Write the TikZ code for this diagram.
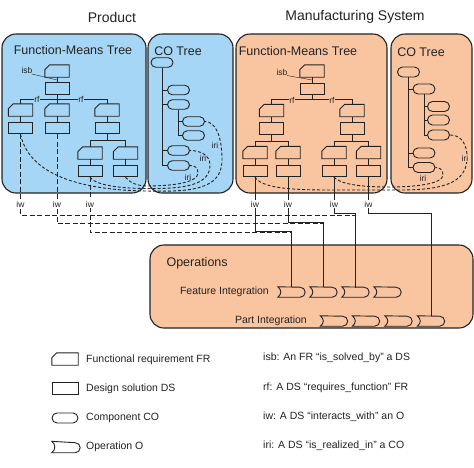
\documentclass[tikz,border=0pt]{standalone}
\usepackage{fontspec}
\setmainfont{Liberation Sans}
\usetikzlibrary{shapes.misc,calc}
\definecolor{bluefill}{RGB}{166,214,245}
\definecolor{orangefill}{RGB}{249,197,161}
\definecolor{ink}{RGB}{35,35,35}
\begin{document}
\begin{tikzpicture}[x=1pt,y=-1pt,
  panelb/.style={draw=ink, line width=1.1pt, fill=bluefill, rounded corners=14pt},
  panelo/.style={draw=ink, line width=1.1pt, fill=orangefill, rounded corners=14pt},
  frbox/.style={rectangle, minimum width=24pt, minimum height=12pt, inner sep=0pt},
  dsbox/.style={rectangle, draw=ink, line width=0.9pt, minimum width=24pt, minimum height=11.5pt, inner sep=0pt},
  cobox/.style={rounded rectangle, draw=ink, line width=0.9pt, minimum width=22pt, minimum height=9.5pt, inner sep=0pt},
  opbox/.style={rectangle, minimum width=27pt, minimum height=10pt, inner sep=0pt},
  tline/.style={draw=ink, line width=0.9pt},
  iwd/.style={draw=ink, line width=0.9pt, dash pattern=on 5pt off 2.5pt},
  iws/.style={draw=ink, line width=0.9pt},
  irid/.style={draw=ink, line width=0.9pt, dash pattern=on 3pt off 2pt},
  lbl/.style={font=\fontsize{8.5}{9}\selectfont, inner sep=0.8pt, text=ink},
  ttl/.style={font=\fontsize{12.5}{14}\selectfont, text=ink},
  bigttl/.style={font=\fontsize{14}{16}\selectfont, text=ink},
  legtxt/.style={font=\fontsize{10.5}{12}\selectfont, anchor=west, inner sep=0pt, text=ink}
]
\useasboundingbox (0,0) rectangle (474,467);
\fill[white] (0,0) rectangle (474,467);

% headings
\node[bigttl] (hprod) at (112,17) {Product};
\node[bigttl] (hman) at (355,17) {Manufacturing System};

% panels
\draw[panelb] (2,34) rectangle (146,193);
\draw[panelb] (148,34) rectangle (233,193);
\draw[panelo] (236,34) rectangle (387,193);
\draw[panelo] (391,34) rectangle (472,193);
\draw[panelo] (150,245) rectangle (473,328);

\node[ttl] (t1) at (73,50) {Function-Means Tree};
\node[ttl] (t2) at (178,51) {CO Tree};
\node[ttl] (t3) at (298,51) {Function-Means Tree};
\node[ttl] (t4) at (421,52) {CO Tree};
\node[ttl, anchor=west] (t5) at (163,263) {Operations};

% ---------- left FM tree
\node[frbox] (lfr1) at (57,71) {};
\node[dsbox] (lds1) at (57,88.5) {};
\node[frbox] (lfr2a) at (20.5,110) {};
\node[dsbox] (lds2a) at (20.5,128) {};
\node[frbox] (lfr2b) at (57,110) {};
\node[dsbox] (lds2b) at (57,128) {};
\node[frbox] (lfr2c) at (107,110) {};
\node[dsbox] (lds2c) at (107,128) {};
\node[frbox] (lfr3a) at (90,153) {};
\node[dsbox] (lds3a) at (90,171) {};
\node[frbox] (lfr3b) at (125.5,153) {};
\node[dsbox] (lds3b) at (125.5,171) {};
\draw[tline] (lfr1) -- (lds1);
\draw[tline] (lds1) -- (lfr2b);
\draw[tline] (lfr2a.north) -- ++(0,-4.5) -| (lfr2c.north);
\draw[tline] (lfr2a) -- (lds2a);
\draw[tline] (lfr2b) -- (lds2b);
\draw[tline] (lfr2c) -- (lds2c);
\draw[tline] (lds2c.south) -- ++(0,7.25);
\draw[tline] (lfr3a.north) -- ++(0,-6) -| (lfr3b.north);
\draw[tline] (lfr3a) -- (lds3a);
\draw[tline] (lfr3b) -- (lds3b);
\node[lbl, fill=bluefill] (lrf1) at (37,99.5) {rf};
\node[lbl, fill=bluefill] (lrf2) at (81,99.5) {rf};
\node[lbl] (lisb) at (27,70) {isb};
\coordinate (lisbpt) at (57,80);
\draw[draw=ink, line width=0.4pt] (32,74) -- (lisbpt);

% ---------- left CO tree
\node[cobox] (lco1) at (162,62.5) {};
\node[cobox] (lco2) at (178.5,90) {};
\node[cobox] (lco3) at (178.5,104.5) {};
\node[cobox] (lco4) at (193.5,121.5) {};
\node[cobox] (lco5) at (193.5,135.5) {};
\node[cobox] (lco6) at (178.5,150.5) {};
\node[cobox] (lco7) at (178.5,165.5) {};
\draw[tline] (lco1.south) |- (lco7.west);
\foreach \c in {lco2,lco3,lco6} \draw[tline] (lco1.south |- \c.west) -- (\c.west);
\draw[tline] (lco3.south) |- (lco5.west);
\draw[tline] (lco3.south |- lco4.west) -- (lco4.west);

% ---------- right FM tree
\node[frbox] (rfr1) at (312,71) {};
\node[dsbox] (rds1) at (312,89) {};
\node[frbox] (rfr2a) at (271.5,110.5) {};
\node[dsbox] (rds2a) at (271.5,128.5) {};
\node[frbox] (rfr2b) at (352,110.5) {};
\node[dsbox] (rds2b) at (352,128.5) {};
\node[frbox] (rfr3a) at (255,152.5) {};
\node[dsbox] (rds3a) at (255,171) {};
\node[frbox] (rfr3b) at (288,152.5) {};
\node[dsbox] (rds3b) at (288,171) {};
\node[frbox] (rfr3c) at (334,152.5) {};
\node[dsbox] (rds3c) at (334,171) {};
\node[frbox] (rfr3d) at (368.5,152.5) {};
\node[dsbox] (rds3d) at (368.5,171) {};
\draw[tline] (rfr1) -- (rds1);
\draw[tline] (rds1.south) -- ++(0,5.25);
\draw[tline] (rfr2a.north) -- ++(0,-4.5) -| (rfr2b.north);
\draw[tline] (rfr2a) -- (rds2a);
\draw[tline] (rfr2b) -- (rds2b);
\draw[tline] (rds2a.south) -- ++(0,7.25);
\draw[tline] (rds2b.south) -- ++(0,7.25);
\draw[tline] (rfr3a.north) -- ++(0,-5) -| (rfr3b.north);
\draw[tline] (rfr3c.north) -- ++(0,-5) -| (rfr3d.north);
\foreach \k in {a,b,c,d} \draw[tline] (rfr3\k) -- (rds3\k);
\node[lbl, fill=orangefill] (rrf1) at (292,100) {rf};
\node[lbl, fill=orangefill] (rrf2) at (332,100) {rf};
\node[lbl] (risb) at (282,72) {isb};
\coordinate (risbpt) at (312,80);
\draw[draw=ink, line width=0.4pt] (287,75.5) -- (risbpt);

% ---------- right CO tree
\node[cobox, minimum height=10pt] (rco1) at (408.5,72) {};
\node[cobox, minimum height=10pt] (rco2) at (424,89) {};
\node[cobox, minimum height=10pt] (rco3) at (438.5,106.5) {};
\node[cobox, minimum height=10pt] (rco4) at (438.5,120) {};
\node[cobox, minimum height=10pt] (rco5) at (438.5,135) {};
\node[cobox, minimum height=10pt] (rco6) at (424,153) {};
\node[cobox, minimum height=10pt] (rco7) at (424,167.5) {};
\draw[tline] (rco1.south) |- (rco7.west);
\foreach \c in {rco2,rco6} \draw[tline] (rco1.south |- \c.west) -- (\c.west);
\draw[tline] (rco2.south) |- (rco5.west);
\foreach \c in {rco3,rco4} \draw[tline] (rco2.south |- \c.west) -- (\c.west);

% ---------- iri curves
\draw[irid] (lds2a.south) .. controls (28,170) and (70,190) .. (147,191)
   .. controls (190,192) and (222,190) .. (222,160)
   .. controls (222,135) and (215,121.5) .. (lco4.east);
\draw[irid] (lds3a.south) .. controls (95,185) and (120,188.5) .. (147,188.5)
   .. controls (185,189) and (210,185) .. (210,165)
   .. controls (210,155) and (200,150.5) .. (lco6.east);
\draw[irid] (lds3b.south) .. controls (130,183) and (138,186) .. (147,186)
   .. controls (175,186) and (198,182) .. (198,173)
   .. controls (198,167) and (194,165.5) .. (lco7.east);
\node[lbl] (liri1) at (215,145) {iri};
\node[lbl] (liri2) at (203,158) {iri};
\node[lbl] (liri3) at (188,177) {iri};

\draw[irid] (rds3a.south) .. controls (262,188) and (290,190) .. (330,190)
   -- (400,190) .. controls (450,190) and (468,180) .. (467,155)
   .. controls (466,140) and (458,135) .. (rco5.east);
\draw[irid] (rds3c.south) .. controls (340,184) and (360,187) .. (389,187)
   .. controls (420,187) and (443,183) .. (443,175)
   .. controls (443,169) and (439,167.5) .. (rco7.east);
\node[lbl, fill=orangefill] (riri1) at (465,158) {iri};
\node[lbl] (riri2) at (423,178) {iri};

% ---------- operations
\node[opbox] (fi1) at (291.5,292) {};
\node[opbox] (fi2) at (323.5,292) {};
\node[opbox] (fi3) at (355.5,292) {};
\node[opbox] (fi4) at (387.5,292) {};
\node[opbox] (pi1) at (334,321) {};
\node[opbox] (pi2) at (366,321) {};
\node[opbox] (pi3) at (398.5,321) {};
\node[opbox] (pi4) at (431,321) {};
\node[legtxt, anchor=east] (fitxt) at (269,292) {Feature Integration};
\node[legtxt, anchor=east] (pitxt) at (307,321) {Part Integration};

% ---------- iw connectors
\draw[iwd] (lds2a.south) -- (20.5,215) -- (355.5,215) -- (fi3.north);
\draw[iwd] (lds2b.south) -- (57,223.5) -- (323.5,223.5) -- (fi2.north);
\draw[iwd] (lds3a.south) -- (90,232.5) -- (291.5,232.5) -- (fi1.north);
\draw[iws] (rds3a.south) -- (255,231) -- (291.5,231) -- (fi1.north);
\draw[iws] (rds3b.south) -- (288,222) -- (323.5,222) -- (fi2.north);
\draw[iws] (rds3c.south) -- (334,213.5) -- (355.5,213.5) -- (fi3.north);
\draw[iws] (rds3d.south) -- (368.5,213) -- (431,213) -- (pi4.north);
\foreach \n/\x in {iw1/20.5,iw2/57,iw3/90,iw4/255,iw5/288,iw6/334,iw7/368.5}
  \node[lbl, fill=white] (\n) at (\x,204) {iw};

% ---------- legend
\node[frbox, minimum width=26pt] (lgfr) at (65,359) {};
\node[dsbox, minimum width=26pt] (lgds) at (65,388.5) {};
\node[cobox, minimum width=26pt, minimum height=10pt] (lgco) at (65,418) {};
\node[opbox, minimum width=28pt, minimum height=11pt] (lgop) at (66,447) {};
\node[legtxt] (lg1) at (86,360) {Functional requirement FR};
\node[legtxt] (lg2) at (86,389) {Design solution DS};
\node[legtxt] (lg3) at (86,418) {Component CO};
\node[legtxt] (lg4) at (86,447) {Operation O};
\node[legtxt] (lg5) at (263,358) {isb: An FR “is\_solved\_by” a DS};
\node[legtxt] (lg6) at (263,387.5) {rf: A DS “requires\_function” FR};
\node[legtxt] (lg7) at (263,417) {iw: A DS “interacts\_with” an O};
\node[legtxt] (lg8) at (263,446) {iri: A DS “is\_realized\_in” a CO};

% FR outlines (chamfered top-left corner)
\foreach \n in {lfr1,lfr2a,lfr2b,lfr2c,lfr3a,lfr3b,rfr1,rfr2a,rfr2b,rfr3a,rfr3b,rfr3c,rfr3d,lgfr}{
  \draw[tline] ($(\n.north west)+(0,5)$) -- ($(\n.north west)+(5,0)$) -- (\n.north east)
    -- (\n.south east) -- (\n.south west) -- cycle;
}
% operation outlines
\foreach \n in {fi1,fi2,fi3,fi4,pi1,pi2,pi3,pi4,lgop}{
  \draw[tline] (\n.north west) .. controls ($(\n.north west)+(4,3)$) and ($(\n.south west)+(4,-3)$) .. (\n.south west)
    -- ($(\n.south east)+(-5,0)$) arc[start angle=-90, end angle=90, radius=5pt] -- cycle;
}
\end{tikzpicture}
\end{document}
